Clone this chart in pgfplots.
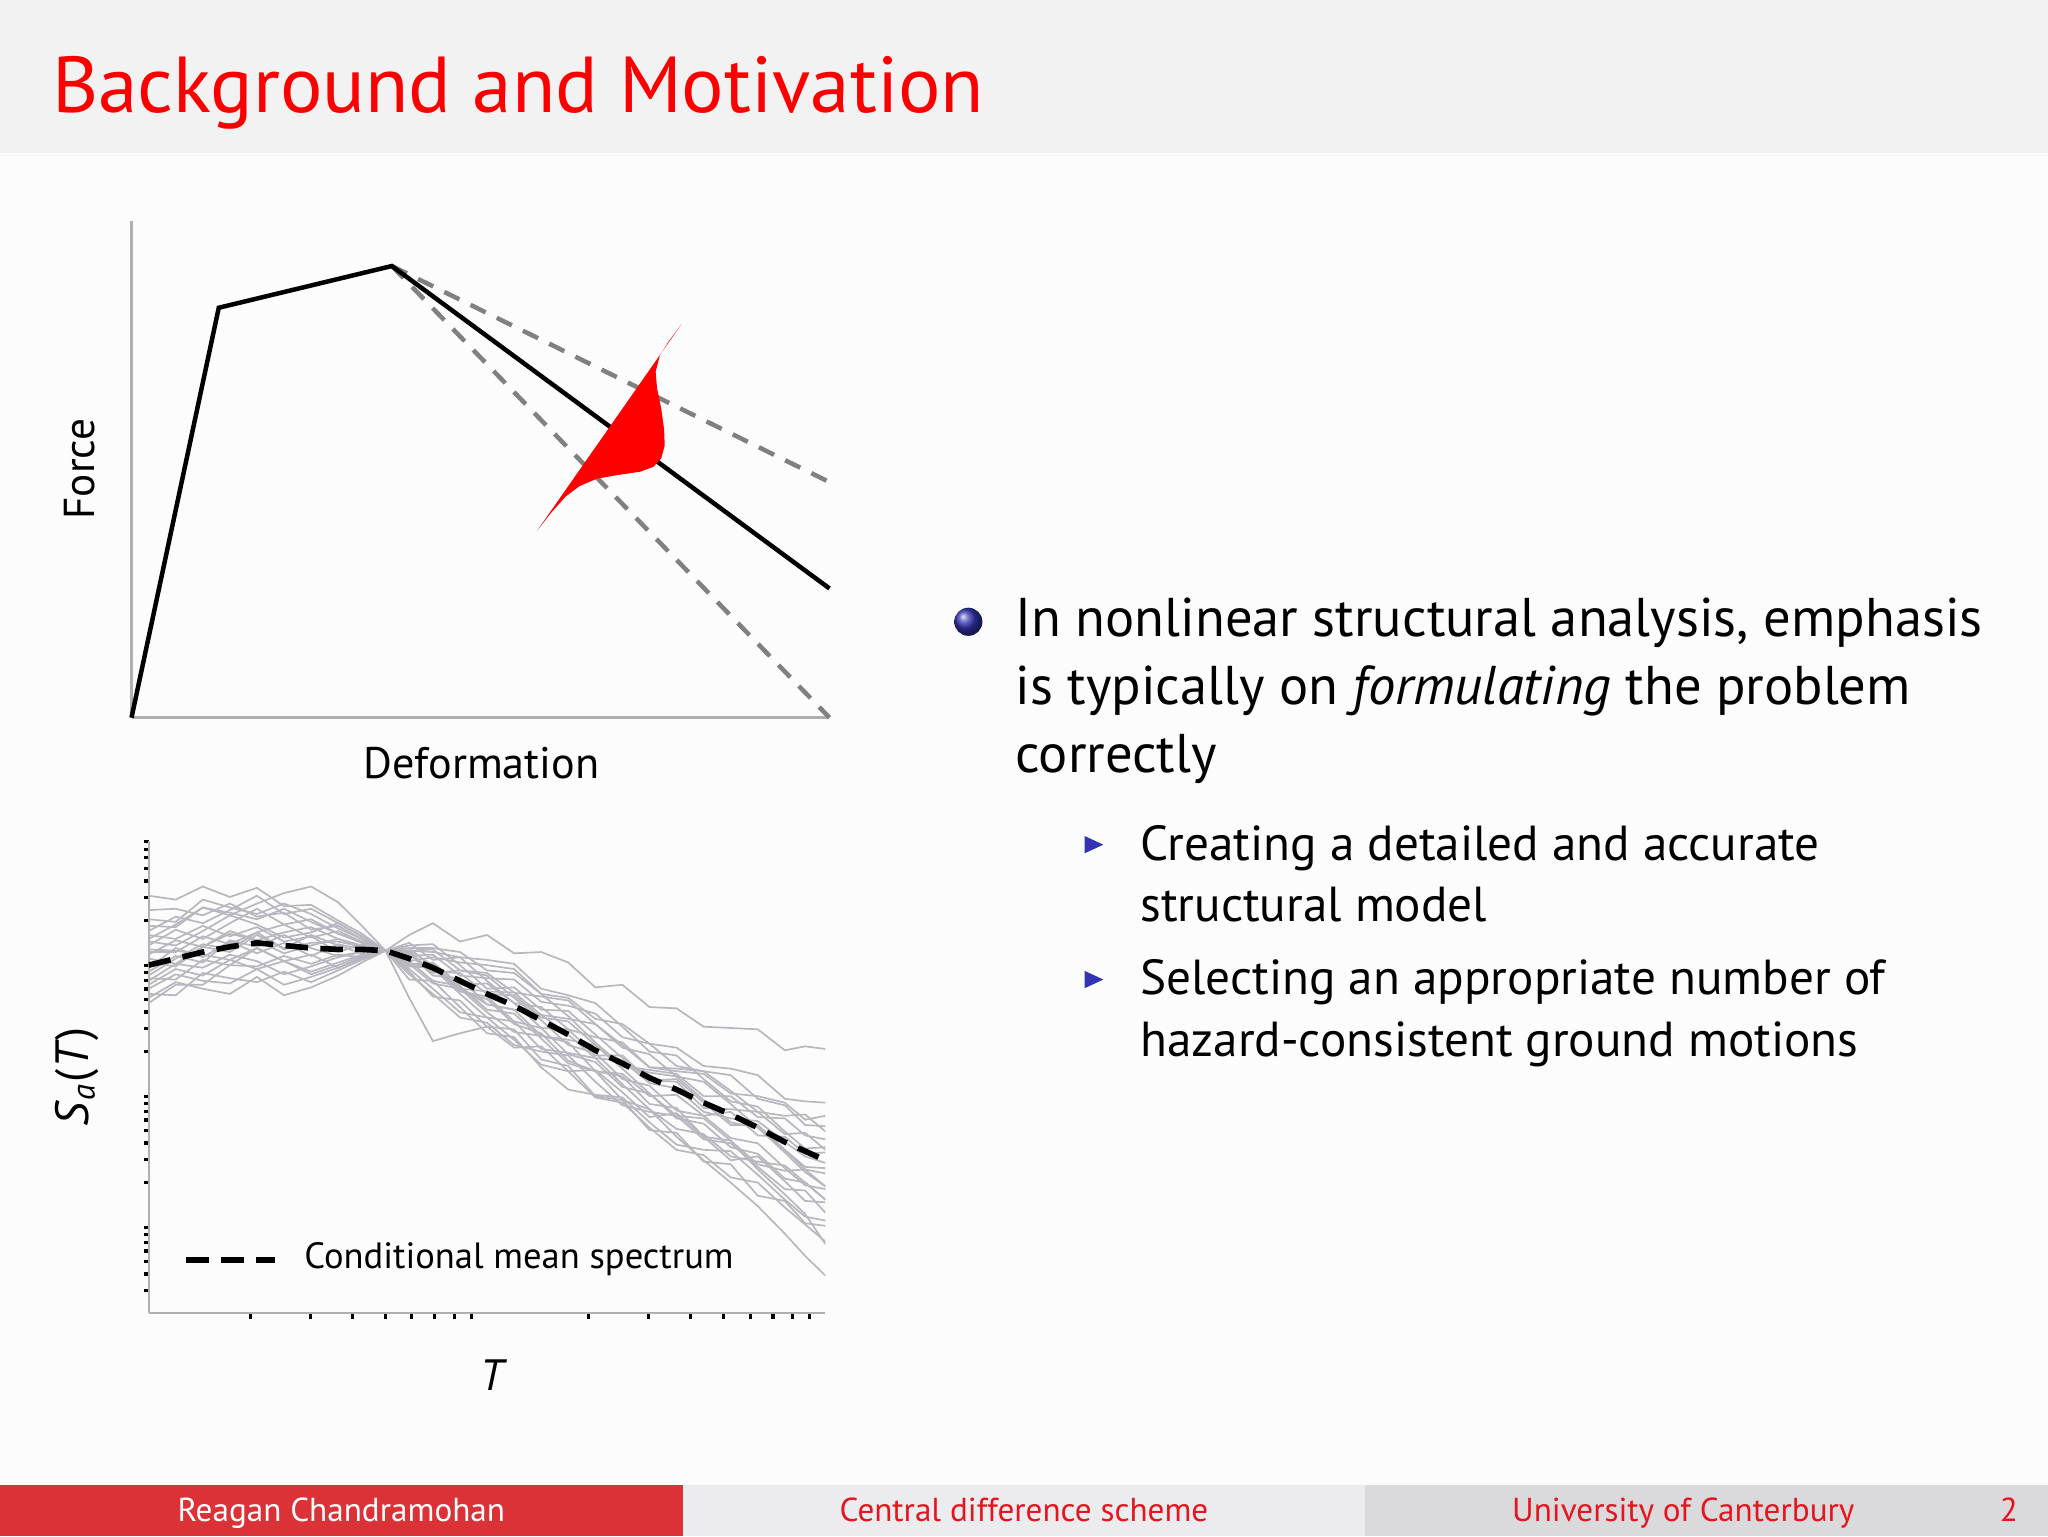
\documentclass[border=0pt]{standalone}
\usepackage{pgfplots}
\pgfplotsset{compat=1.18}
\usepackage{pgfplotstable}
\usepackage{fontspec}
\setmainfont{PT Sans}

\definecolor{titlered}{RGB}{250,0,0}
\definecolor{footred}{RGB}{218,50,54}
\definecolor{footmid}{RGB}{236,236,238}
\definecolor{footright}{RGB}{218,218,220}
\definecolor{foottext}{RGB}{230,20,30}
\definecolor{barbg}{RGB}{242,242,242}
\definecolor{bodybg}{RGB}{252,252,252}
\definecolor{axisgray}{RGB}{176,176,176}
\definecolor{dashgray}{RGB}{128,128,128}
\definecolor{specgray}{RGB}{184,182,190}
\definecolor{bulletblue}{RGB}{51,51,179}

% log10(T) and log10(Sa), one row per spectrum (transposed below)
\pgfplotstableread{
name p0 p1 p2 p3 p4 p5 p6 p7 p8 p9 p10 p11 p12 p13 p14 p15 p16 p17 p18 p19 p20 p21 p22 p23 p24 p25 p26
x 0 0.08 0.16 0.24 0.32 0.40 0.48 0.56 0.63 0.70 0.77 0.84 0.92 1.00 1.08 1.16 1.24 1.32 1.40 1.48 1.56 1.64 1.72 1.80 1.88 1.94 2.00
c 1.96 2.01 2.06 2.10 2.13 2.11 2.09 2.08 2.08 2.07 2.01 1.94 1.84 1.74 1.65 1.54 1.43 1.31 1.21 1.10 1.01 0.91 0.82 0.72 0.61 0.54 0.47
g1 2.49 2.46 2.56 2.48 2.55 2.41 2.42 2.30 2.20 2.07 2.07 1.96 1.79 1.66 1.62 1.58 1.43 1.25 1.23 1.06 1.02 0.84 0.79 0.77 0.61 0.50 0.45
g2 2.38 2.39 2.34 2.43 2.33 2.36 2.23 2.26 2.16 2.07 1.97 1.97 1.76 1.72 1.53 1.48 1.28 1.22 1.03 0.98 0.79 0.75 0.57 0.52 0.33 0.30 0.17
g3 2.19 2.16 2.26 2.18 2.25 2.14 2.18 2.06 2.12 2.07 2.09 2.09 2.06 1.92 1.90 1.74 1.71 1.55 1.51 1.36 1.33 1.19 1.17 1.12 0.94 0.92 0.91
g4 1.67 1.81 1.81 1.96 1.95 2.03 1.97 2.04 2.02 2.07 1.91 1.72 1.69 1.49 1.47 1.24 1.19 0.96 0.93 0.70 0.68 0.46 0.44 0.20 0.16 -0.01 -0.03
g5 2.06 2.06 2.18 2.12 2.21 2.08 2.13 2.14 2.10 2.07 2.19 2.28 2.14 2.19 2.05 2.06 1.98 1.79 1.81 1.64 1.63 1.49 1.48 1.47 1.31 1.34 1.32
g6 1.91 2.03 1.98 2.15 2.10 2.19 2.09 2.03 2.06 2.07 1.71 1.38 1.44 1.49 1.33 1.34 1.15 1.16 0.99 0.80 0.83 0.65 0.47 0.50 0.31 0.16 0.15
g7 2.11 2.23 2.16 2.28 2.39 2.27 2.31 2.20 2.13 2.07 2.06 1.91 1.90 1.74 1.73 1.56 1.53 1.35 1.19 1.16 1.13 0.96 0.96 0.80 0.79 0.66 0.63
g8 1.81 1.93 1.88 2.00 1.93 1.99 2.04 1.94 2.01 2.07 2.05 1.88 1.86 1.66 1.62 1.42 1.37 1.15 1.11 0.90 0.87 0.65 0.62 0.40 0.21 0.06 -0.17
g9 1.98 1.95 2.10 2.06 2.19 2.09 2.19 2.11 2.05 2.07 1.96 1.96 1.76 1.70 1.51 1.44 1.23 1.15 0.93 0.86 0.65 0.47 0.30 0.12 -0.09 -0.26 -0.41
g10 2.26 2.25 2.40 2.36 2.31 2.39 2.29 2.20 2.14 2.07 2.03 2.04 1.88 1.86 1.85 1.68 1.65 1.59 1.41 1.36 1.19 1.15 1.12 0.94 0.89 0.74 0.73
g11 1.74 1.73 1.90 1.86 1.83 1.91 1.83 1.92 2.00 2.07 1.95 1.98 1.81 1.82 1.67 1.64 1.47 1.27 1.27 1.08 1.09 0.91 0.74 0.74 0.55 0.40 0.37
g12 2.04 2.15 2.10 2.22 2.15 2.21 2.25 2.16 2.10 2.07 1.99 1.84 1.80 1.62 1.59 1.40 1.21 1.15 1.13 0.96 0.97 0.81 0.64 0.60 0.41 0.28 0.25
g13 1.86 1.85 2.00 1.96 2.09 1.99 1.91 1.98 2.04 2.07 2.07 2.08 1.92 1.90 1.75 1.58 1.55 1.51 1.35 1.18 1.17 1.15 1.00 0.84 0.81 0.82 0.69
g14 2.14 2.11 2.22 2.34 2.27 2.17 2.21 2.28 2.18 2.07 1.93 1.78 1.60 1.56 1.39 1.20 1.15 0.95 0.91 0.72 0.55 0.51 0.34 0.30 0.11 -0.02 -0.15
g15 1.78 1.89 1.84 1.82 1.93 1.81 1.87 1.94 2.02 2.07 2.11 2.12 1.96 1.78 1.79 1.62 1.61 1.43 1.25 1.08 1.07 0.87 0.86 0.84 0.67 0.68 0.55
g16 2.01 1.97 1.94 2.04 1.99 1.89 1.95 2.02 2.06 2.07 2.04 1.90 1.92 1.88 1.71 1.54 1.35 1.29 1.09 1.04 0.85 0.81 0.84 0.66 0.65 0.52 0.53
g17 1.88 2.01 2.12 2.08 2.21 2.27 2.17 2.22 2.14 2.07 1.95 1.94 1.74 1.56 1.53 1.32 1.29 1.25 1.05 0.86 0.71 0.67 0.50 0.46 0.43 0.30 0.17
g18 2.22 2.33 2.28 2.38 2.49 2.35 2.39 2.28 2.18 2.07 2.07 2.06 2.02 1.84 1.67 1.48 1.47 1.41 1.37 1.18 1.15 1.13 0.98 0.96 0.91 0.78 0.81
g19 1.84 1.97 2.10 2.20 2.15 2.05 2.11 2.16 2.11 2.07 1.99 2.02 1.98 1.96 1.93 1.74 1.57 1.37 1.19 1.14 1.11 1.07 0.90 0.72 0.53 0.38 0.27
g20 2.08 2.07 2.04 2.00 2.09 1.99 1.89 1.96 2.03 2.07 2.09 1.94 1.78 1.76 1.75 1.72 1.69 1.51 1.33 1.28 1.11 0.93 0.76 0.72 0.55 0.42 0.41
g21 2.31 2.29 2.46 2.40 2.35 2.43 2.35 2.24 2.16 2.07 1.89 1.74 1.56 1.52 1.35 1.30 1.27 1.07 0.89 0.84 0.81 0.63 0.60 0.42 0.25 0.24 0.07
g22 1.71 1.83 1.78 1.74 1.87 1.73 1.79 1.88 1.98 2.07 2.13 2.00 2.02 2.00 1.97 1.78 1.73 1.67 1.49 1.30 1.27 1.09 0.92 0.88 0.69 0.56 0.57
g23 2.16 2.27 2.40 2.34 2.43 2.51 2.56 2.44 2.26 2.07 1.97 1.82 1.78 1.60 1.45 1.42 1.39 1.35 1.17 0.98 0.81 0.79 0.62 0.44 0.39 0.40 0.27
g24 1.94 2.09 2.02 2.14 2.05 2.13 2.03 2.12 2.08 2.07 1.85 1.84 1.64 1.44 1.41 1.18 1.01 0.97 0.95 0.76 0.59 0.55 0.54 0.36 0.17 0.04 0.01
}\specraw
\pgfplotstabletranspose[colnames from=name]\spec{\specraw}

\begin{document}
\begin{tikzpicture}
\useasboundingbox (0,0) rectangle (128mm,96mm);
\fill[bodybg] (0,0) rectangle (128mm,96mm);
\fill[barbg] (0,86.44mm) rectangle (128mm,96mm);
\node[anchor=base west, inner sep=0, text=titlered, font=\fontsize{14.1}{17}\selectfont] at (3.2mm,89.0mm) {Background and Motivation};

% force-deformation backbone
\begin{axis}[at={(8.22mm,51.15mm)}, anchor=south west, scale only axis,
  width=43.62mm, height=31.05mm,
  xmin=0, xmax=10, ymin=0, ymax=10,
  axis lines=left, axis line style={-, draw=axisgray, line width=0.45pt},
  xtick=\empty, ytick=\empty, clip=false]
\addplot[dashgray, line width=0.8pt, dash pattern=on 3pt off 2.2pt] coordinates {(3.73,9.09) (10,4.74)};
\addplot[dashgray, line width=0.8pt, dash pattern=on 3pt off 2.2pt] coordinates {(3.73,9.09) (10,0)};
\addplot[black, line width=0.8pt] coordinates {(0,0) (1.25,8.25) (3.73,9.09) (10,2.60)};
\addplot[draw=none, fill=red] coordinates {
 (5.81,3.76) (6.01,4.12) (6.22,4.45) (6.42,4.66) (6.67,4.81) (7.00,4.89)
 (7.29,4.95) (7.48,5.05) (7.59,5.22) (7.64,5.48) (7.63,5.81) (7.59,6.22)
 (7.53,6.63) (7.51,6.96) (7.57,7.29) (7.70,7.58) (7.88,7.92) (5.81,3.76)};
\end{axis}
\node[anchor=base, inner sep=0, rotate=90, font=\fontsize{7.7}{9}\selectfont] at (5.93mm,66.69mm) {Force};
\node[anchor=base, inner sep=0, font=\fontsize{7.85}{9}\selectfont] at (30.09mm,47.375mm) {Deformation};

% response spectra
\begin{axis}[at={(9.29mm,13.91mm)}, anchor=south west, scale only axis,
  width=42.3mm, height=29.55mm,
  xmin=0, xmax=2, ymin=-0.699, ymax=2.91,
  axis lines=left, axis line style={-, draw=axisgray, line width=0.35pt},
  xtick={0.301,0.477,0.602,0.699,0.778,0.845,0.903,0.954,1.301,1.477,1.602,1.699,1.778,1.845,1.903,1.954},
  ytick={-0.523,-0.398,-0.301,-0.222,-0.155,-0.097,-0.046,0.301,0.477,0.602,0.699,0.778,0.845,0.903,0.954,1.301,1.477,1.602,1.699,1.778,1.845,1.903,1.954,2.301,2.477,2.602,2.699,2.778,2.845,2.903},
  xticklabels={}, yticklabels={},
  tick align=outside, major tick length=0.9pt,
  tick style={black, line width=0.55pt},
  legend style={at={(axis description cs:0.05,0.113)}, anchor=west, draw=none, fill=none,
    inner sep=0pt, font=\fontsize{6.5}{8}\selectfont},
  legend image code/.code={\draw[#1] (0mm,0mm) -- (5.56mm,0mm); \path (6.5mm,0mm);},
  legend cell align=left]
\pgfplotsinvokeforeach{1,...,24}{
  \addplot[specgray, line width=0.3pt, forget plot] table[x=x, y=g#1]{\spec};
}
\addplot[black, line width=1pt, dash pattern=on 4pt off 2.2pt] table[x=x, y=c]{\spec};
\addlegendentry{Conditional mean spectrum}
\end{axis}
\node[anchor=base, inner sep=0, rotate=90, font=\fontsize{8.3}{10}\selectfont] at (5.56mm,28.69mm) {\textit{S}\textsubscript{\textit{a}}(\textit{T})};
\node[anchor=base, inner sep=0, font=\fontsize{7.8}{9}\selectfont] at (30.875mm,9.125mm) {\textit{T}};

% bullets
\shade[ball color=bulletblue] (60.52mm,57.14mm) circle (0.88mm);
\begin{scope}[every node/.style={anchor=base west, inner sep=0, font=\fontsize{9.7}{11}\selectfont}]
\node at (63.4mm,56.19mm) {In nonlinear structural analysis, emphasis};
\node at (63.4mm,51.94mm) {is typically on \textit{formulating} the problem};
\node at (63.4mm,47.75mm) {correctly};
\end{scope}
\fill[bulletblue] (67.79mm,43.75mm) -- (68.96mm,43.21mm) -- (67.79mm,42.67mm) -- cycle;
\fill[bulletblue] (67.79mm,35.32mm) -- (68.96mm,34.78mm) -- (67.79mm,34.24mm) -- cycle;
\begin{scope}[every node/.style={anchor=base west, inner sep=0, font=\fontsize{8.75}{10}\selectfont}]
\node at (71.2mm,42.25mm) {Creating a detailed and accurate};
\node at (71.2mm,38.41mm) {structural model};
\node at (71.2mm,33.84mm) {Selecting an appropriate number of};
\node at (71.2mm,30.0mm) {hazard-consistent ground motions};
\end{scope}

% footer
\fill[footred] (0,0) rectangle (42.67mm,3.19mm);
\fill[footmid] (42.67mm,0) rectangle (85.33mm,3.19mm);
\fill[footright] (85.33mm,0) rectangle (128mm,3.19mm);
\begin{scope}[every node/.style={anchor=base, inner sep=0, font=\fontsize{5.9}{7}\selectfont}]
\node[text=white] at (21.33mm,0.89mm) {Reagan Chandramohan};
\node[text=foottext] at (64mm,0.89mm) {Central difference scheme};
\node[text=foottext] at (105.2mm,0.89mm) {University of Canterbury};
\node[text=foottext] at (125.56mm,0.89mm) {2};
\end{scope}
\end{tikzpicture}
\end{document}
